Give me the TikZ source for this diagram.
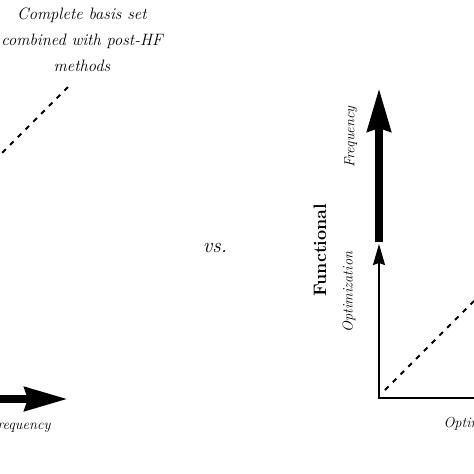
\documentclass[tikz,border=0pt]{standalone}
\usepackage{fontspec}
\usepackage{tikz}
\usetikzlibrary{positioning,arrows.meta}

\begin{document}
\begin{tikzpicture}[
  x=1pt, y=-1pt,
  axisname/.style={font=\fontsize{14.5}{16}\selectfont\itshape},
  bigarrow/.style={line width=8.5pt, -{Stealth[length=43pt,width=23pt,inset=3pt]}},
  thinaxis/.style={line width=1.6pt, -{Stealth[length=21pt,width=12pt,inset=2pt]}},
  guide/.style={line width=1.8pt, dash pattern=on 5pt off 6pt}
]
\useasboundingbox (0,0) rectangle (474,474);

% left half (cut off by the frame)
\node[font=\fontsize{16.5}{26}\selectfont\itshape, align=center] (cbs) at (82,40) {Complete basis set\\combined with post-HF\\methods};
\coordinate (cbsfoot) at (68,87);
\coordinate (leftorig) at (-6,161);
\draw[guide] (cbsfoot) -- (leftorig);

\coordinate (freqstart) at (-10,399);
\coordinate (freqtip) at (68,399);
\draw[bigarrow] (freqstart) -- (freqtip);
\node[axisname, anchor=base east] (freqL) at (54,429) {Frequency};

\node[font=\fontsize{21}{24}\selectfont\itshape] (versus) at (215,248) {vs.};

% right half
\node[font=\fontsize{18}{20}\selectfont\bfseries, rotate=90] (func) at (320,250) {Functional};

\coordinate (orig) at (379,398);
\coordinate (optend) at (490,398);
\coordinate (opttip) at (379,244);
\coordinate (freqbase) at (379,242);
\coordinate (freqtop) at (379,88);
\draw[thinaxis] (optend) -- (orig) -- (opttip);
\draw[bigarrow] (freqbase) -- (freqtop);

\node[axisname, rotate=90] (freqR) at (351,137) {Frequency};
\node[axisname, rotate=90] (optR) at (349,292) {Optimization};
\node[axisname, anchor=base west] (optB) at (440,427) {Optimization};

\coordinate (diagstart) at (385,390);
\coordinate (diagend) at (482,293);
\draw[guide] (diagstart) -- (diagend);
\end{tikzpicture}
\end{document}
